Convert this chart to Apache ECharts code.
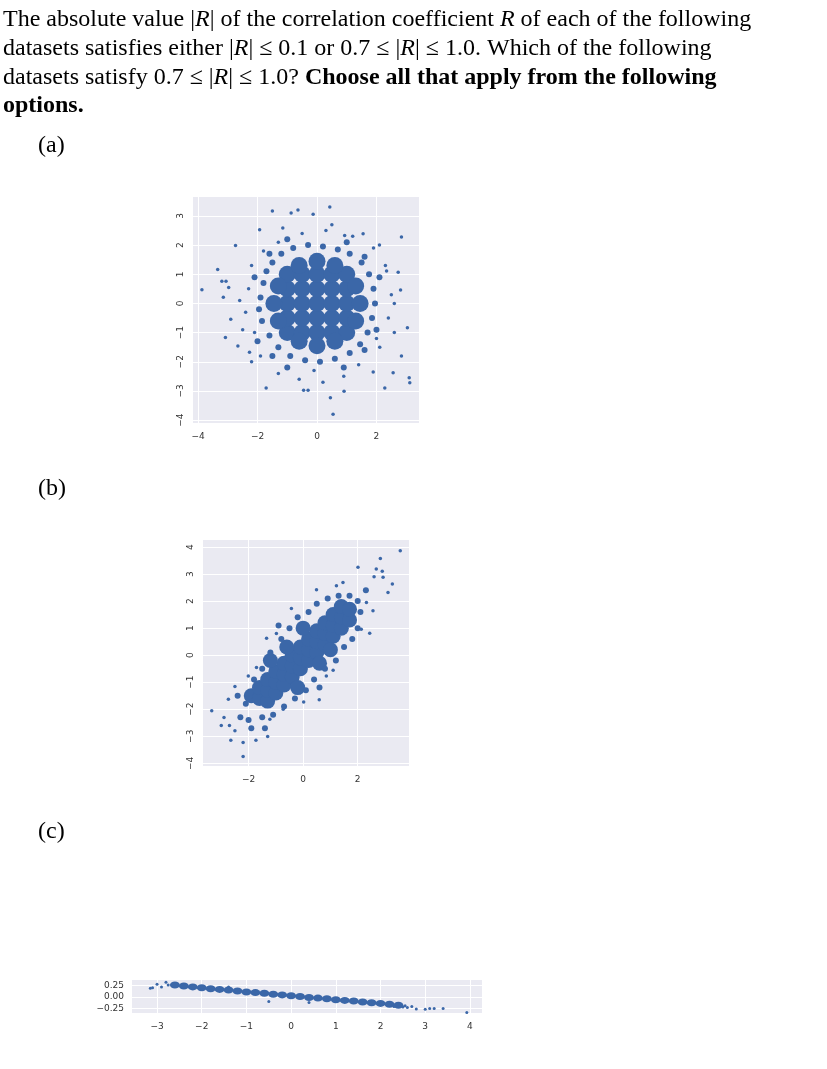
<!DOCTYPE html>
<html><head><meta charset="utf-8">
<script src="https://cdn.jsdelivr.net/npm/echarts@6/dist/echarts.min.js"></script>
<style>html,body{margin:0;padding:0;background:#fff}#c{width:827px;height:1069px}</style>
</head><body><div id="c"></div>
<script>
// ---- data ----
const ticksA_x = [-4, -2, 0, 2];
const ticksA_y = [-4, -3, -2, -1, 0, 1, 2, 3];
const ticksB_x = [-2, 0, 2];
const ticksB_y = [-4, -3, -2, -1, 0, 1, 2, 3, 4];
const ticksC_x = [-3, -2, -1, 0, 1, 2, 3, 4];
const ticksC_y = [-0.25, 0, 0.25];

const coreA = [[-1,-1],[-1,-0.5],[-1,0],[-1,0.5],[-1,1],[-0.5,-1],[-0.5,-0.5],[-0.5,0],[-0.5,0.5],[-0.5,1],
  [0,-1],[0,-0.5],[0,0],[0,0.5],[0,1],[0.5,-1],[0.5,-0.5],[0.5,0],[0.5,0.5],[0.5,1],
  [1,-1],[1,-0.5],[1,0],[1,0.5],[1,1],[-1.45,0],[1.45,0],[0,-1.45],[0,1.45],[-1.3,-0.6],[1.3,0.6],[-1.3,0.6],[1.3,-0.6],[-0.6,1.3],[0.6,1.3],[-0.6,-1.3],[0.6,-1.3]];
const ringA = [[-1.9,0.2],[-1.8,0.7],[-1.7,1.1],[-1.5,1.4],[-1.2,1.7],[-0.8,1.9],[-0.3,2.0],[0.2,1.95],[0.7,1.85],[1.1,1.7],[1.5,1.4],[1.75,1.0],
  [1.9,0.5],[1.95,0],[1.85,-0.5],[1.7,-1.0],[1.45,-1.4],[1.1,-1.7],[0.6,-1.9],[0.1,-2.0],[-0.4,-1.95],[-0.9,-1.8],[-1.3,-1.5],[-1.6,-1.1],
  [-1.85,-0.6],[-1.95,-0.2],[-2.1,0.9],[-2.0,-1.3],[2.1,0.9],[2.0,-0.9],[-1.0,2.2],[1.0,2.1],[-1.0,-2.2],[0.9,-2.2],[-1.6,1.7],[1.6,1.6],[-1.5,-1.8],[1.6,-1.6]];
const outA = [[-3.87,0.47],[-3.34,1.16],[-3.2,0.76],[-3.06,0.76],[-3.15,0.21],[-2.97,0.55],[-2.9,-0.54],[-3.08,-1.17],[-2.66,-1.46],[-2.74,1.99],
  [-1.71,-2.9],[-1.5,3.17],[-0.87,3.1],[-0.64,3.2],[-0.13,3.06],[0.43,3.31],[0.93,2.33],[1.55,2.39],[2.84,2.28],[2.73,1.07],[2.81,0.46],
  [3.04,-0.83],[3.1,-2.55],[3.12,-2.72],[2.84,-1.8],[2.56,-2.38],[2.28,-2.9],[0.54,-3.8],[0.45,-3.23],[0.91,-3.01],[-0.45,-2.98],[-0.3,-2.98],
  [-2.27,-1.67],[2.34,1.11],[2.11,-1.5],[1.89,-2.35],[-1.93,2.53],[-1.15,2.59],[-2.2,1.3],[-2.3,0.5],[-2.4,-0.3],[-2.1,-1.0],[-1.9,-1.8],
  [-1.3,-2.4],[-0.6,-2.6],[0.2,-2.7],[0.9,-2.5],[1.4,-2.1],[2.0,-1.2],[2.4,-0.5],[2.5,0.3],[2.3,1.3],[1.9,1.9],[1.2,2.3],[0.3,2.5],
  [-0.5,2.4],[-1.3,2.1],[-1.8,1.8],[-2.6,0.1],[-2.5,-0.9],[2.6,-1.0],[2.6,0.0],[-0.1,-2.3],[0.5,2.7],[-2.2,-2.0],[2.1,2.0]];

const coreB = [[-1.9,-1.5],[-1.6,-1.6],[-1.3,-1.7],[-1.6,-1.2],[-1.3,-1.3],[-1.0,-1.4],[-1.3,-0.9],[-1.0,-1.0],[-0.7,-1.1],
  [-1.0,-0.6],[-0.7,-0.7],[-0.4,-0.8],[-0.7,-0.3],[-0.4,-0.4],[-0.1,-0.5],[-0.4,0.0],[-0.1,-0.1],[0.2,-0.2],
  [-0.1,0.3],[0.2,0.2],[0.5,0.1],[0.2,0.6],[0.5,0.5],[0.8,0.4],[0.5,0.9],[0.8,0.8],[1.1,0.7],[0.8,1.2],[1.1,1.1],[1.4,1.0],
  [1.1,1.5],[1.4,1.4],[1.7,1.3],[1.4,1.8],[1.7,1.7],[-0.6,0.3],[0.6,-0.3],[-1.2,-0.2],[1.0,0.2],[0.0,1.0],[-0.2,-1.2]];
const ringB = [[-2.3,-2.3],[-2.1,-1.8],[-2.0,-2.4],[-1.8,-0.9],[-1.5,-0.5],[-1.2,0.1],[-0.8,0.6],[-0.5,1.0],[-0.2,1.4],[0.2,1.6],[0.5,1.9],
  [0.9,2.1],[1.3,2.2],[1.7,2.2],[2.0,2.0],[2.1,1.6],[2.0,1.0],[1.8,0.6],[1.5,0.3],[1.2,-0.2],[0.8,-0.5],[0.4,-0.9],[0.1,-1.3],
  [-0.3,-1.6],[-0.7,-1.9],[-1.1,-2.2],[-1.5,-2.3],[-1.9,-2.7],[-2.4,-1.5],[2.3,2.4],[-1.4,-2.7],[0.6,-1.2],[-0.9,1.1]];
const outB = [[-3.35,-2.06],[3.56,3.86],[-2.2,-3.75],[-2.2,-3.23],[-2.65,-3.15],[-1.73,-3.15],[-1.3,-3.01],[-2.9,-2.31],[0.02,-1.73],
  [0.59,-1.65],[2.01,3.25],[2.83,3.58],[3.27,2.63],[3.11,2.32],[2.44,0.81],[0.49,2.42],[-0.43,1.73],[-1.34,0.63],[-0.98,0.8],
  [-2.5,-1.16],[-2.74,-1.63],[0.85,-0.77],[1.1,-0.56],[2.68,3.19],[2.93,2.88],[2.32,1.95],[2.56,1.64],[2.13,0.96],[1.22,2.57],
  [1.46,2.69],[-2.01,-0.77],[-1.71,-0.46],[-1.22,-2.37],[-0.73,-2.0],[-2.7,-2.6],[-2.5,-2.8],[2.6,2.9],[2.9,3.1],[-3.0,-2.6]];

const coreC = [[-2.6,0.26],[-2.4,0.24],[-2.2,0.22],[-2.0,0.2],[-1.8,0.18],[-1.6,0.165],[-1.4,0.15],[-1.2,0.13],[-1.0,0.11],[-0.8,0.095],
  [-0.6,0.08],[-0.4,0.06],[-0.2,0.045],[0.0,0.025],[0.2,0.01],[0.4,-0.01],[0.6,-0.025],[0.8,-0.04],[1.0,-0.06],[1.2,-0.075],
  [1.4,-0.09],[1.6,-0.11],[1.8,-0.125],[2.0,-0.14],[2.2,-0.16],[2.4,-0.18]];
const outC = [[-3.15,0.19],[-3.1,0.2],[-3.0,0.28],[-2.8,0.32],[-2.75,0.26],[-2.9,0.22],[-1.4,0.22],[-0.5,-0.1],[0.4,-0.12],
  [2.5,-0.22],[2.6,-0.23],[2.8,-0.26],[3.0,-0.27],[3.2,-0.25],[3.4,-0.25],[3.93,-0.34],[2.7,-0.21],[3.1,-0.25],[2.55,-0.19],[2.3,-0.21]];

// ---- chart ----
const PT = '#3b67a8';
const fmt = v => String(v).replace('-', '\u2212');
const fmtC = v => v.toFixed(2).replace('-', '\u2212');
function xAx(i, min, max, ticks, f) {
  return {gridIndex:i, type:'value', min, max,
    axisLine:{show:false}, axisTick:{show:false, customValues:ticks},
    axisLabel:{customValues:ticks, formatter:f||fmt, color:'#333', fontFamily:'DejaVu Sans', fontSize:9, margin:9},
    splitLine:{show:true, lineStyle:{color:'#fff', width:1}}};
}
function yAx(i, min, max, ticks, f) {
  const a = xAx(i, min, max, ticks, f); a.axisLabel.margin = 8; a.axisLabel.rotate = i===2?0:90; return a;
}
function sc(x, y, data, size) {
  return {type:'scatter', xAxisIndex:x, yAxisIndex:y, data, symbolSize:size, itemStyle:{color:PT, opacity:1}, silent:true};
}
const chart = echarts.init(document.getElementById('c'), null, {renderer:'canvas'});
const serif = '"Liberation Serif","Times New Roman",serif';
const rich = {i:{fontStyle:'italic', fontFamily:serif, fontSize:24, fill:'#000'}, b:{fontWeight:'bold', fontFamily:serif, fontSize:24}};
function txt(x, y, text, extra) {
  return {type:'text', left:x, top:y, style:Object.assign({text, fontFamily:serif, fontSize:24, fill:'#000', rich:{i:{fontStyle:'italic',fontSize:24,fontFamily:serif}, b:{fontWeight:'bold',fontSize:24,fontFamily:serif}}}, extra||{})};
}
chart.setOption({
  animation:false,
  backgroundColor:'#fff',
  graphic:[
    txt(3, 8, 'The absolute value |{i|R}| of the correlation coefficient {i|R} of each of the following'),
    txt(3, 37, 'datasets satisfies either |{i|R}| ≤ 0.1 or 0.7 ≤ |{i|R}| ≤ 1.0. Which of the following'),
    txt(3, 66, 'datasets satisfy 0.7 ≤ |{i|R}| ≤ 1.0? {b|Choose all that apply from the following}'),
    txt(3, 94, 'options.', {fontWeight:'bold'}),
    txt(38, 134, '(a)'), txt(38, 477, '(b)'), txt(38, 820, '(c)')
  ],
  grid:[
    {left:193, top:197, width:226, height:226, backgroundColor:'#eaeaf2', show:true, borderWidth:0},
    {left:203, top:540, width:206, height:226, backgroundColor:'#eaeaf2', show:true, borderWidth:0},
    {left:132, top:980, width:350, height:33, backgroundColor:'#eaeaf2', show:true, borderWidth:0}
  ],
  xAxis:[xAx(0,-4.17,3.43,ticksA_x), xAx(1,-3.67,3.88,ticksB_x), xAx(2,-3.56,4.27,ticksC_x)],
  yAxis:[yAx(0,-4.1,3.65,ticksA_y), yAx(1,-4.1,4.26,ticksB_y), yAx(2,-0.35,0.37,ticksC_y,fmtC)],
  series:[
    sc(0,0,coreA,17), sc(0,0,ringA,6), sc(0,0,outA,3.5),
    sc(1,1,coreB,15), sc(1,1,ringB,6), sc(1,1,outB,3.5),
    sc(2,2,coreC,[10,7]), sc(2,2,outC,3)
  ]
});
</script></body></html>
